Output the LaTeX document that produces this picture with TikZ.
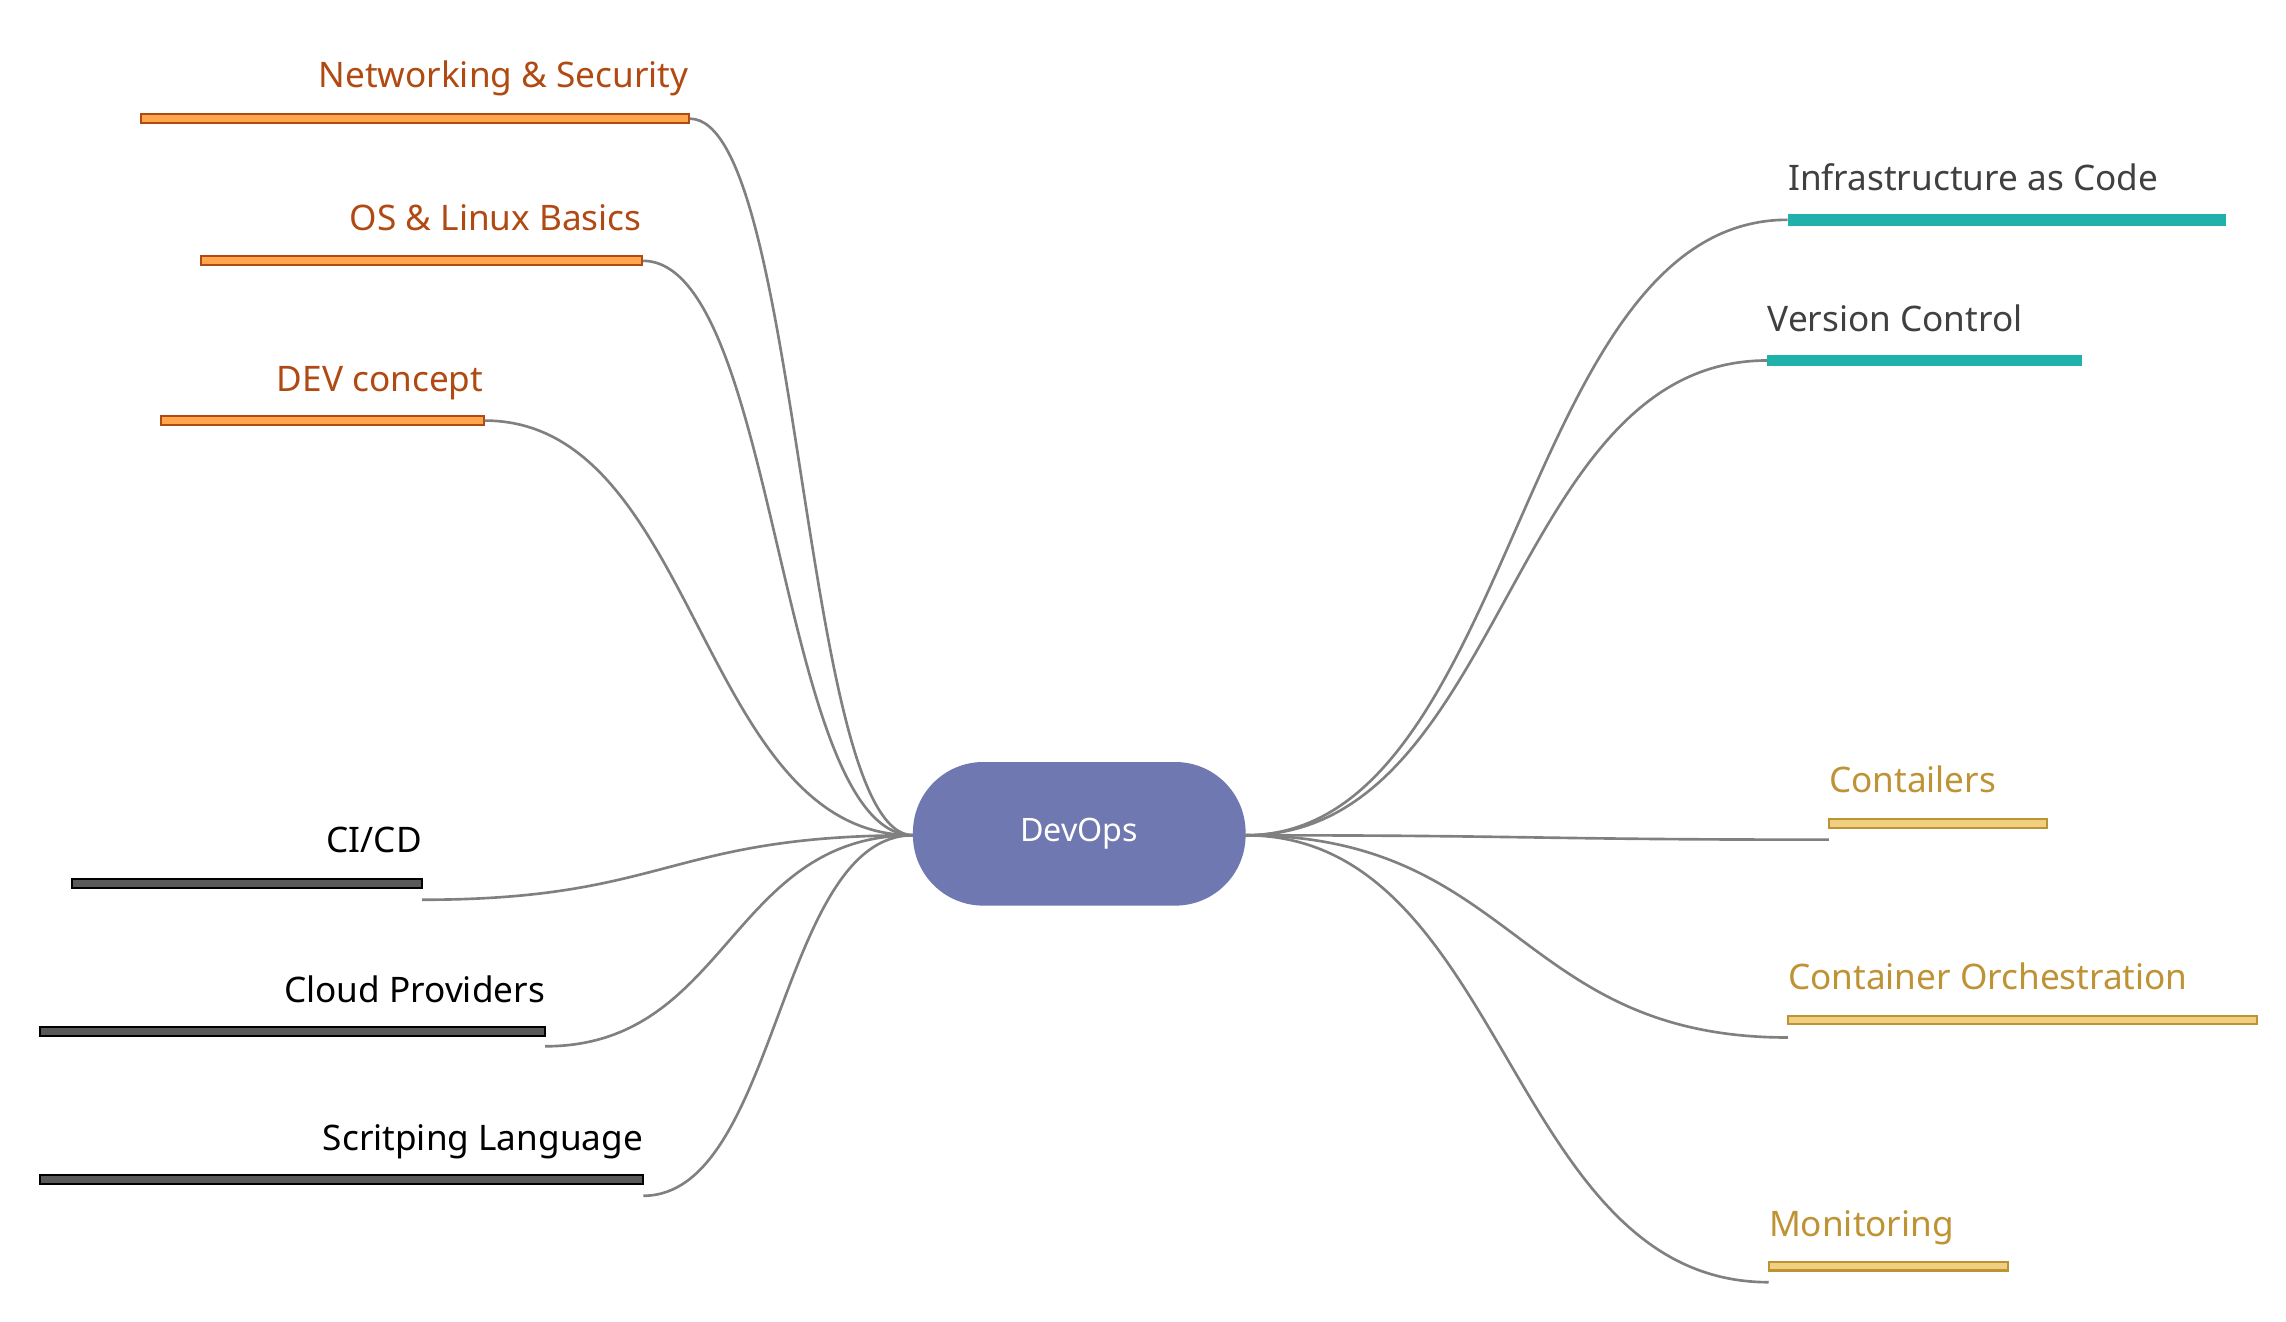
\documentclass[tikz,border=0pt]{standalone}
\usepackage{fontspec}
\setmainfont{Noto Sans}
\usetikzlibrary{calc}
\begin{document}
\begin{tikzpicture}[x=1pt,y=-1pt,
  lbl/.style={inner sep=0pt,font=\fontsize{24}{28}\selectfont},
  obar/.style={draw=ot,fill=orange!70!white,line width=1.4pt,minimum height=6pt,inner sep=0pt},
  kbar/.style={draw=black,fill=black!65,line width=1.4pt,minimum height=6pt,inner sep=0pt},
  gbar/.style={draw=gt,fill=gb,line width=1.4pt,minimum height=6pt,inner sep=0pt},
  link/.style={draw=black!50,line width=1.8pt},
]
\definecolor{ot}{HTML}{B04A12}
\definecolor{gt}{HTML}{BE9335}
\definecolor{tb}{HTML}{20B2AA}
\definecolor{gb}{HTML}{F0CF80}
\useasboundingbox (0,0) rectangle (1560,902);
\node[fill={rgb,255:red,111;green,120;blue,176},rounded corners=48pt,minimum width=227pt,minimum height=98pt,text=white,font=\fontsize{22}{26}\selectfont] (c) at (736.5,569) {DevOps};
\coordinate (cl) at (623,570); \coordinate (cr) at (850,570);
% left
\node[obar,minimum width=374pt] (b1) at (283,81) {};
\node[lbl,text=ot,anchor=base east] (t1) at (470,60) {Networking \& Security};
\node[obar,minimum width=301pt] (b2) at (287.5,178) {};
\node[lbl,text=ot,anchor=base east] (t2) at (438,157) {OS \& Linux Basics};
\node[obar,minimum width=220pt] (b3) at (220,287) {};
\node[lbl,text=ot,anchor=base east] (t3) at (330,267) {DEV concept};
\node[kbar,minimum width=239pt] (b4) at (168.5,603) {};
\node[lbl,anchor=base east] (t4) at (288,582) {CI/CD};
\node[kbar,minimum width=345pt] (b5) at (199.5,704) {};
\node[lbl,anchor=base east] (t5) at (372,684) {Cloud Providers};
\node[kbar,minimum width=412pt] (b6) at (233,805) {};
\node[lbl,anchor=base east] (t6) at (439,785) {Scritping Language};
% right
\node[fill=tb,minimum height=8pt,inner sep=0pt,minimum width=299pt] (b7) at (1369.5,150) {};
\node[lbl,text=black!75,anchor=base west] (t7) at (1220,130) {Infrastructure as Code};
\node[fill=tb,minimum height=8pt,inner sep=0pt,minimum width=215pt] (b8) at (1313.5,246) {};
\node[lbl,text=black!75,anchor=base west] (t8) at (1206,226) {Version Control};
\node[gbar,minimum width=149pt] (b9) at (1322.5,562) {};
\node[lbl,text=gt,anchor=base west] (t9) at (1248,541) {Contailers};
\node[gbar,minimum width=320pt] (b10) at (1380,696) {};
\node[lbl,text=gt,anchor=base west] (t10) at (1220,675) {Container Orchestration};
\node[gbar,minimum width=163pt] (b11) at (1288.5,864) {};
\node[lbl,text=gt,anchor=base west] (t11) at (1207,844) {Monitoring};
% connector ends
\coordinate (e4) at (288,614); \coordinate (e5) at (372,714); \coordinate (e6) at (439,816);
\coordinate (e9) at (1248,573); \coordinate (e10) at (1220,708); \coordinate (e11) at (1207,875);
\foreach \e in {b1.east,b2.east,b3.east,e4,e5,e6,b7.west,b8.west,e9,e10,e11}{
  \path let \p1=(\e) in coordinate (s) at ({\x1<700?623:850},570);
  \coordinate (m) at ($(s)!0.5!(\e)$);
  \draw[link] (s) .. controls (s -| m) and (\e -| m) .. (\e);
}
\end{tikzpicture}
\end{document}
